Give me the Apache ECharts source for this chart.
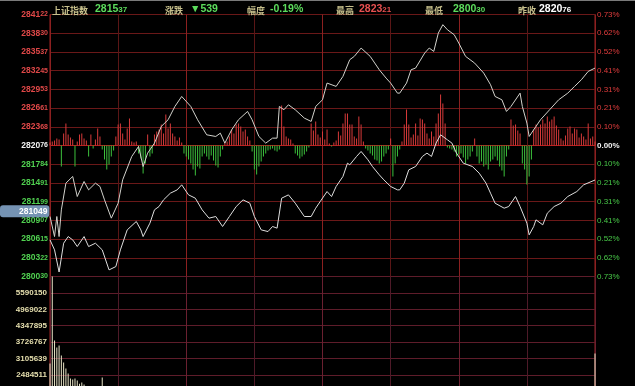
<!DOCTYPE html>
<html><head><meta charset="utf-8">
<script src="https://cdn.jsdelivr.net/npm/echarts@6/dist/echarts.min.js"></script>
<style>html,body{margin:0;padding:0;background:#000;}#c{width:635px;height:386px;}</style>
</head><body><div id="c"></div>
<script>
// ---------- data ----------
const prevClose = 282076;
const priceTop = 284122;          // top tick of the price axis
const volumeTop = 6211278;        // top tick of the volume axis
const headerLabels = ['上证指数', '涨跌', '幅度', '最高', '最低', '昨收'];
const headerValues = ['281537', '▼539', '-0.19%', '282321', '280030', '282076'];
const highlightValue = 281049;
// [minute, price]  index line
const indexLine = [[0,280602],[2,280446],[4,280100],[6,280550],[8,280654],[10,280602],[12,280498],[15,280654],[17,280498],[20,280550],[23,280446],[26,280133],[29,280185],[31,280446],[34,280758],[38,280889],[40,280758],[41,280654],[44,280863],[46,281071],[48,281123],[50,281227],[53,281331],[56,281383],[58,281462],[61,281305],[64,281253],[67,281071],[70,280941],[73,280967],[76,280811],[79,280967],[82,281123],[85,281227],[88,281175],[90,280967],[93,280758],[96,280732],[98,280811],[100,280785],[102,281253],[105,281305],[108,281175],[110,281071],[112,280967],[115,280967],[117,281097],[119,281201],[122,281357],[124,281279],[126,281436],[129,281592],[131,281800],[132,281774],[135,281905],[137,281983],[140,281853],[142,281748],[145,281618],[147,281540],[150,281436],[153,281383],[154,281383],[156,281488],[158,281696],[161,281748],[164,281905],[166,281957],[168,281905],[170,282113],[172,282243],[175,282165],[177,282113],[179,281957],[182,281800],[186,281748],[189,281644],[192,281488],[194,281331],[196,281175],[200,281097],[202,281123],[205,281279],[207,281123],[210,280863],[211,280680],[213,280811],[214,280915],[217,280837],[219,281019],[222,281123],[225,281175],[228,281279],[232,281357],[235,281462],[240,281537]];
// [minute, price]  second (unweighted) line
const otherLine = [[0,280967],[2,280654],[3,280967],[4,280654],[5,281071],[7,281488],[10,281592],[12,281279],[15,281514],[17,281383],[20,281488],[22,281436],[24,281227],[27,280941],[30,281175],[32,281540],[36,281905],[39,282061],[41,281748],[43,281957],[46,282113],[49,282373],[52,282478],[55,282686],[58,282842],[62,282686],[65,282478],[69,282243],[73,282217],[75,282269],[77,282113],[80,282321],[83,282478],[87,282608],[89,282478],[92,282217],[95,282113],[98,282191],[100,282191],[101,282686],[103,282634],[105,282712],[108,282634],[112,282504],[115,282452],[117,282686],[120,282790],[122,283051],[126,282999],[129,283155],[132,283416],[134,283468],[137,283598],[141,283468],[145,283259],[148,283129],[150,283051],[153,282894],[154,282894],[157,283051],[159,283259],[161,283285],[165,283520],[167,283598],[169,283546],[171,283832],[173,283963],[175,283884],[178,283806],[180,283676],[183,283468],[187,283363],[191,283207],[194,283025],[196,282842],[199,282790],[201,282608],[203,282686],[207,282894],[208,282686],[210,282426],[211,282217],[214,282373],[216,282478],[220,282634],[224,282790],[228,282894],[231,282999],[234,283103],[237,283233],[240,283285]];
// [minute, strength]  red (+) / green (-) bars
const strengthBars = [[0,3],[1,4],[2,5],[3,7],[4,6],[5,-21],[6,12],[7,22],[8,11],[9,8],[10,6],[11,-21],[12,4],[13,11],[14,12],[15,7],[16,5],[17,-11],[18,11],[19,-3],[20,6],[21,17],[22,9],
[23,-4],[24,-14],[25,-24],[26,-19],[27,-11],[28,-5],
[29,9],[30,21],[31,22],[32,12],[33,6],[34,17],[35,27],[36,4],[37,3],
[38,4],[39,-8],[40,-13],[41,-28],[42,-18],[43,11],[44,-11],[45,-8],
[46,11],[47,14],[48,16],[49,21],[50,12],[51,31],[52,17],[53,22],[54,12],[55,9],[56,5],[57,8],[58,3],
[59,-8],[60,-11],[61,-14],[62,-18],[63,-24],[64,-30],[65,-21],[66,-23],[67,-11],[68,-8],[69,-11],[70,-14],[71,-10],[72,-15],[73,-20],[74,-22],[75,-11],[76,-4],
[77,3],[78,4],[79,9],[80,16],[81,12],[82,21],[83,22],[84,19],[85,14],[86,16],[87,9],[88,5],
[89,-6],[90,-24],[91,-29],[92,-21],[93,-16],[94,-11],[95,-8],[96,-5],[97,-4],[98,-3],[99,-5],[100,-6],[101,-4],
[102,40],[103,19],[104,9],[105,7],[106,6],[107,2],
[108,-8],[109,-10],[110,-13],[111,-11],[112,-9],[113,-6],[114,-2],
[115,22],[116,15],[117,24],[118,11],[119,8],[120,14],[121,6],[122,16],
[123,2],[124,-1],[125,3],
[126,5],[127,14],[128,10],[129,22],[130,32],[131,32],[132,21],[133,21],[134,9],[135,7],[136,29],[137,21],[138,4],
[139,-3],[140,-5],[141,-8],[142,-10],[143,-14],[144,-15],[145,-18],[146,-16],[147,-11],[148,-8],[149,-4],[150,7],[151,-31],[152,-18],[153,-11],[154,-4],
[155,4],[156,21],[157,36],[158,21],[159,8],[160,11],[161,22],[162,10],[163,27],[164,26],[165,22],[166,12],[167,7],[168,14],[169,9],[170,22],[171,32],[172,51],[173,42],[174,22],
[175,-2],[176,-3],[177,-4],[178,-6],[179,-11],[180,-9],[181,-8],[182,-12],[183,-18],[184,-14],[185,-11],[186,-6],[187,7],[188,-11],[189,-18],[190,-16],[191,-21],[192,-19],[193,-24],[194,-16],[195,-14],[196,-11],[197,-15],[198,-21],[199,-25],[200,-31],[201,-11],[202,-4],
[203,26],[204,20],[205,21],[206,15],[207,12],
[208,-18],[209,-24],[210,-39],[211,-31],[212,-14],
[213,16],[214,21],[215,18],[216,21],[217,26],[218,22],[219,29],[220,24],[221,26],[222,29],[223,20],[224,16],[225,7],[226,5],[227,10],[228,17],[229,19],[230,12],[231,17],[232,16],[233,8],[234,12],[235,9],[236,6],[237,22],[238,7],[239,9],[240,4]];
// [minute, volume]  (only bars tall enough to be seen)
const volumeBars = [[0,2920000],[1,7500000],[2,3790000],[3,3520000],[4,3600000],[5,3220000],[6,2950000],[7,2730000],[8,2540000],[9,2350000],[10,2310000],[11,2350000],[12,2270000],[13,2150000],[14,2200000],[15,2120000],[23,2390000],[240,3295000]];

// ---------- chart ----------
const span = priceTop - prevClose;
const step = span / 7;
const NUM = 'Liberation Sans, Arial, sans-serif';
const CJK = 'Noto Sans CJK SC, sans-serif';
const RED = '#e04848', GREEN = '#50d050', WHITE = '#f2f2f2';
function st(c, s, w) { return {color: c, fontSize: s, fontWeight: w || 'bold', fontFamily: NUM, lineHeight: 11}; }
const axisRich = {r1: st(RED, 8.5), r2: st(RED, 7), w1: st(WHITE, 8.5), w2: st(WHITE, 7), g1: st(GREEN, 8.5), g2: st(GREEN, 7)};
const pctRich = {r: st('#e03c3c', 8, 'normal'), w: st(WHITE, 8, 'bold'), g: st('#48c848', 8, 'normal')};

const hGridColors = [];
for (let i = 0; i <= 14; i++) hGridColors.push(i === 7 ? '#b41c1c' : '#6a1818');
const vGridColors = ['#8c2020', '#5a1616', '#8c2020', '#5a1616', '#8c2020', '#5a1616', '#8c2020', '#5a1616', '#8c2020'];

const headerStyles = ['g', 'g', 'g', 'r', 'g', 'w'];
const headerPos = [[52, 95], [165, 190], [247, 270], [336, 359], [425, 453], [518, 539]];
const titleRich = {
  lab: {color: '#c8c08c', fontSize: 9, fontFamily: CJK, lineHeight: 13},
  g1: st('#5cdc5c', 10.5), g2: st('#5cdc5c', 8),
  r1: st('#e85050', 10.5), r2: st('#e85050', 8),
  w1: st('#ffffff', 10.5), w2: st('#ffffff', 8)
};
const titles = [];
headerLabels.forEach((lab, i) => {
  titles.push({left: headerPos[i][0], top: 4, padding: 0, text: '{lab|' + lab + '}', textStyle: {rich: titleRich}});
  const v = headerValues[i], s = headerStyles[i];
  const txt = /^\d{6}$/.test(v) ? '{' + s + '1|' + v.slice(0, 4) + '}{' + s + '2|' + v.slice(4) + '}' : '{' + s + '1|' + v + '}';
  titles.push({left: headerPos[i][1], top: 4, padding: 0, text: txt, textStyle: {rich: titleRich}});
});

const chart = echarts.init(document.getElementById('c'));
chart.setOption({
  animation: false,
  backgroundColor: '#000',
  title: titles,
  graphic: [{type: 'rect', left: 0, top: 0, shape: {width: 635, height: 1}, style: {fill: '#7a7a7a'}, silent: true}],
  grid: [
    {left: 50, right: 40, top: 14.5, height: 262, show: true, borderColor: '#a02222', borderWidth: 1, containLabel: false, outerBoundsMode: 'none'},
    {left: 50, right: 40, top: 276.5, height: 164, show: true, borderColor: '#a02222', borderWidth: 1, containLabel: false, outerBoundsMode: 'none'}
  ],
  xAxis: [
    {type: 'value', gridIndex: 0, min: 0, max: 240, interval: 30, axisLabel: {show: false}, axisLine: {show: false}, axisTick: {show: false},
     splitLine: {lineStyle: {color: vGridColors, width: 1}}},
    {type: 'value', gridIndex: 1, min: 0, max: 240, interval: 30, axisLabel: {show: false}, axisLine: {show: false}, axisTick: {show: false},
     splitLine: {lineStyle: {color: ['#6a2030', '#4e1a28', '#6a2030', '#4e1a28', '#6a2030', '#4e1a28', '#6a2030', '#4e1a28', '#6a2030'], width: 1}}}
  ],
  yAxis: [
    {type: 'value', gridIndex: 0, position: 'left', min: -span, max: span, interval: step,
     axisLine: {show: false}, axisTick: {show: false},
     axisLabel: {margin: 2, showMinLabel: true, showMaxLabel: true, rich: axisRich,
       formatter: v => { const p = String(Math.round(prevClose + v)); const k = v > 0.5 ? 'r' : (v < -0.5 ? 'g' : 'w'); return '{' + k + '1|' + p.slice(0, 4) + '}{' + k + '2|' + p.slice(4) + '}'; }},
     splitLine: {lineStyle: {color: hGridColors, width: 1}},
     axisPointer: {show: true, type: 'line', value: highlightValue - prevClose, status: 'show', triggerTooltip: false,
       lineStyle: {opacity: 0},
       label: {show: true, margin: 2, padding: [2, 2, 1, 19], backgroundColor: '#7593b3', color: '#ffffff', fontSize: 8.5, fontWeight: 'bold', fontFamily: NUM,
         formatter: p => String(Math.round(prevClose + p.value))}}},
    {type: 'value', gridIndex: 0, position: 'right', min: -span, max: span, interval: step,
     axisLine: {show: false}, axisTick: {show: false}, splitLine: {show: false},
     axisLabel: {margin: 2, showMinLabel: true, showMaxLabel: true, rich: pctRich,
       formatter: v => { const t = (Math.abs(v) / prevClose * 100).toFixed(2) + '%'; const k = v > 0.5 ? 'r' : (v < -0.5 ? 'g' : 'w'); return '{' + k + '|' + t + '}'; }}},
    {type: 'value', gridIndex: 0, min: -131, max: 131, show: false, splitLine: {show: false}},
    {type: 'value', gridIndex: 1, position: 'left', min: 0, max: volumeTop, interval: volumeTop / 10,
     axisLine: {show: false}, axisTick: {show: false},
     axisLabel: {margin: 3, showMaxLabel: false, color: '#e6dfae', fontSize: 8, fontWeight: 'bold', fontFamily: NUM,
       formatter: v => String(Math.round(v))},
     splitLine: {lineStyle: {color: '#5e1c2a', width: 1}}}
  ],
  series: [
    {type: 'bar', xAxisIndex: 0, yAxisIndex: 2, barWidth: 1, data: strengthBars,
     itemStyle: {color: p => (p.value[1] >= 0 ? '#d83a3a' : '#3cc03c')}},
    {type: 'line', xAxisIndex: 0, yAxisIndex: 0, showSymbol: false, symbol: 'none',
     data: otherLine.map(d => [d[0], d[1] - prevClose]), lineStyle: {color: '#d2d2cc', width: 1}},
    {type: 'line', xAxisIndex: 0, yAxisIndex: 0, showSymbol: false, symbol: 'none',
     data: indexLine.map(d => [d[0], d[1] - prevClose]), lineStyle: {color: '#dedede', width: 1}},
    {type: 'bar', xAxisIndex: 1, yAxisIndex: 3, barWidth: 1, data: volumeBars, clip: true,
     itemStyle: {color: '#e8e4c6'}}
  ]
});
</script></body></html>
